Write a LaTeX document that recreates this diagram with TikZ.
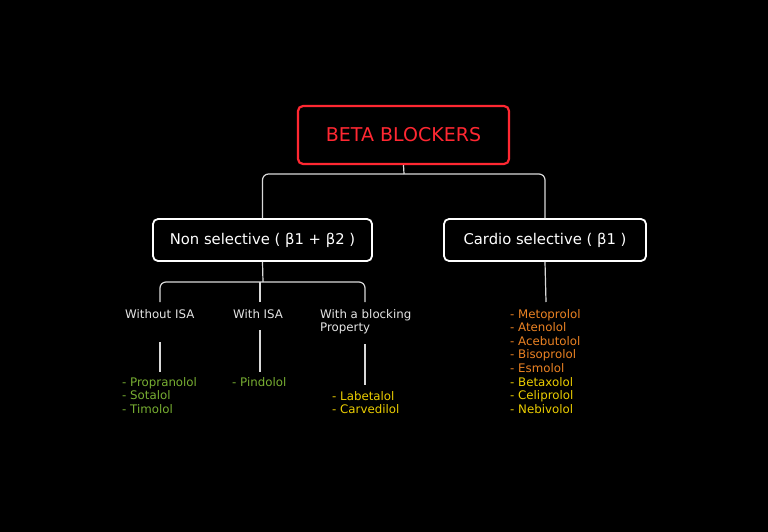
\documentclass[tikz,border=0pt]{standalone}
\usepackage{fontspec}
\setmainfont{DejaVu Sans}
\begin{document}
\begin{tikzpicture}[x=1pt,y=-1pt,
  box/.style={draw=white,line width=1.8pt,rounded corners=5pt,fill=black,text=white,inner sep=0pt,font=\fontsize{14.8}{17}\selectfont},
  ln/.style={draw=white!85!black,line width=1.2pt,rounded corners=6pt},
  lab/.style={text=white!90!black,font=\fontsize{11.8}{13.4}\selectfont,anchor=north west,inner sep=0pt,align=left},
  lst/.style={font=\fontsize{11.8}{13.6}\selectfont,anchor=north west,inner sep=0pt,align=left}]
\definecolor{grn}{RGB}{120,175,50}
\definecolor{org}{RGB}{235,130,35}
\definecolor{ylw}{RGB}{235,205,0}
\definecolor{rd}{RGB}{255,40,50}
\fill[black] (0,0) rectangle (768,532);
\node[box,draw=rd,text=rd,line width=2.2pt,minimum width=211pt,minimum height=58pt,font=\fontsize{19}{21}\selectfont] (top) at (403.5,135) {BETA BLOCKERS};
\node[box,minimum width=219pt,minimum height=42pt] (ns) at (262.5,240) {Non selective ( β1 + β2 )};
\node[box,minimum width=202pt,minimum height=42pt] (cs) at (545,240) {Cardio selective ( β1 )};
\coordinate (j1) at (404,174);
\draw[ln] (top.south) -- (j1);
\draw[ln] (ns.north) |- (j1) -| (cs.north);
\coordinate (j2) at (263,282);
\draw[ln] (ns.south) -- (j2);
\coordinate (a1) at (160,302);
\coordinate (a2) at (260,302);
\coordinate (a3) at (365,302);
\draw[ln] (a1) |- (j2) -| (a3);
\draw[ln] (a2) -- (260,282);
\node[lab] (w1) at (125,309) {Without ISA};
\node[lab] (w2) at (233,309) {With ISA};
\node[lab] (w3) at (320,309) {With a blocking\\Property};
\coordinate (b1) at (160,342); \coordinate (c1) at (160,372);
\coordinate (b2) at (260,330); \coordinate (c2) at (260,372);
\coordinate (b3) at (365,344); \coordinate (c3) at (365,385);
\draw[ln] (b1) -- (c1); \draw[ln] (b2) -- (c2); \draw[ln] (b3) -- (c3);
\node[lst,text=grn] (l1) at (122,377) {- Propranolol\\- Sotalol\\- Timolol};
\node[lst,text=grn] (l2) at (232,377) {- Pindolol};
\node[lst,text=ylw] (l3) at (332,391) {- Labetalol\\- Carvedilol};
\coordinate (d1) at (546,302);
\draw[ln] (cs.south) -- (d1);
\node[lst,text=org] (l4) at (510,309) {- Metoprolol\\- Atenolol\\- Acebutolol\\- Bisoprolol\\- Esmolol};
\node[lst,text=ylw] (l5) at (510,377) {- Betaxolol\\- Celiprolol\\- Nebivolol};
\end{tikzpicture}
\end{document}
